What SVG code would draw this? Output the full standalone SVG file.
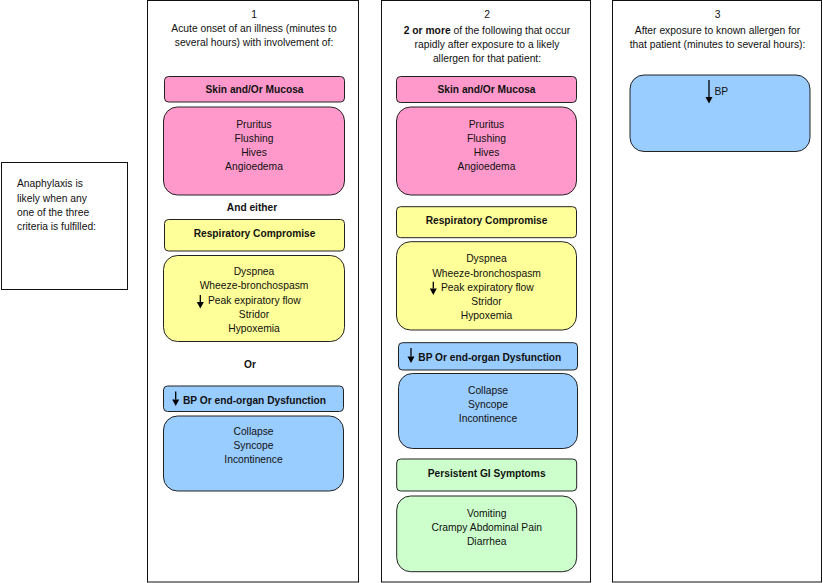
<svg xmlns="http://www.w3.org/2000/svg" width="823" height="583" viewBox="0 0 823 583">
<style>
text{font-family:"Liberation Sans",Arial,sans-serif;font-size:10.3px;fill:#111}
.c{text-anchor:middle}
.b{font-weight:bold;font-size:10.2px}
.col{fill:#fff;stroke:#111;stroke-width:1}
.hd,.bd{stroke:#222;stroke-width:1}
.pink{fill:#FF99CC}
.yel{fill:#FFFF99}
.blue{fill:#99CCFF}
.grn{fill:#CCFFCC}
.arr{stroke:#000;stroke-width:1.3;fill:none}
</style>
<defs>
<marker id="ah" markerUnits="userSpaceOnUse" markerWidth="8" markerHeight="8" refX="4" refY="7" orient="auto-start-reverse" viewBox="0 0 8 8">
<path d="M0,0 L8,0 L4,7 Z" transform="rotate(-90 4 4) translate(0 0)" fill="#000"/>
</marker>
<path id="tri" d="M-3.5,0 L3.5,0 L0,6.5 Z" fill="#000"/>
</defs>
<rect width="823" height="583" fill="#fff"/>

<g id="intro">
<rect class="col" x="1.5" y="162.5" width="126" height="127"/>
<text x="17" y="187">Anaphylaxis is</text>
<text x="17" y="201.5">likely when any</text>
<text x="17" y="216">one of the three</text>
<text x="17" y="230">criteria is fulfilled:</text>
</g>

<g id="criterion1">
<rect class="col" x="147.5" y="0.5" width="211" height="581.5"/>
<text class="c" x="254" y="18">1</text>
<text class="c" x="254" y="32">Acute onset of an illness (minutes to</text>
<text class="c" x="254" y="46">several hours) with involvement of:</text>
</g>

<g id="c1-skin">
<rect class="hd pink" x="164.5" y="76.5" width="180" height="25.5" rx="4"/>
<text class="c b" x="254.5" y="93">Skin and/Or Mucosa</text>
<rect class="bd pink" x="163.5" y="107" width="181" height="88" rx="14"/>
<text class="c" x="254" y="128">Pruritus</text>
<text class="c" x="254" y="142">Flushing</text>
<text class="c" x="254" y="156">Hives</text>
<text class="c" x="254" y="170">Angioedema</text>
</g>

<text class="c b" x="252" y="211">And either</text>

<g id="c1-resp">
<rect class="hd yel" x="164.5" y="219.5" width="180" height="31.5" rx="4"/>
<text class="c b" x="254.5" y="237">Respiratory Compromise</text>
<rect class="bd yel" x="163.5" y="255.5" width="181" height="86" rx="14"/>
<text class="c" x="254" y="275">Dyspnea</text>
<text class="c" x="254" y="289.3">Wheeze-bronchospasm</text>
<text x="208" y="303.5">Peak expiratory flow</text>
<path class="arr" d="M200.3,295 V302"/>
<use href="#tri" x="200.3" y="302"/>
<text class="c" x="254" y="317.7">Stridor</text>
<text class="c" x="254" y="331.7">Hypoxemia</text>
</g>

<text class="c b" x="250" y="368">Or</text>

<g id="c1-bp">
<rect class="hd blue" x="163.5" y="386" width="180" height="25.5" rx="4"/>
<path class="arr" d="M175.7,391.5 V399.5"/>
<use href="#tri" x="175.7" y="399.5"/>
<text class="b" x="183" y="404">BP Or end-organ Dysfunction</text>
<rect class="bd blue" x="163.5" y="416" width="180" height="75" rx="14"/>
<text class="c" x="253.5" y="435">Collapse</text>
<text class="c" x="253.5" y="449.3">Syncope</text>
<text class="c" x="253.5" y="463.3">Incontinence</text>
</g>

<g id="criterion2">
<rect class="col" x="381.5" y="0.5" width="209" height="581.5"/>
<text class="c" x="487" y="18">2</text>
<text class="c" x="487" y="34"><tspan font-weight="bold">2 or more</tspan> of the following that occur</text>
<text class="c" x="487" y="48">rapidly after exposure to a likely</text>
<text class="c" x="487" y="62">allergen for that patient:</text>
</g>

<g id="c2-skin">
<rect class="hd pink" x="396.5" y="76.5" width="180" height="26" rx="4"/>
<text class="c b" x="486.5" y="93">Skin and/Or Mucosa</text>
<rect class="bd pink" x="396.5" y="107" width="180" height="88" rx="14"/>
<text class="c" x="486.5" y="128">Pruritus</text>
<text class="c" x="486.5" y="142">Flushing</text>
<text class="c" x="486.5" y="156">Hives</text>
<text class="c" x="486.5" y="170">Angioedema</text>
</g>

<g id="c2-resp">
<rect class="hd yel" x="396.5" y="206.7" width="180" height="31" rx="4"/>
<text class="c b" x="486.5" y="224">Respiratory Compromise</text>
<rect class="bd yel" x="396.5" y="241.7" width="180" height="88.3" rx="14"/>
<text class="c" x="486.5" y="262.3">Dyspnea</text>
<text class="c" x="486.5" y="276.7">Wheeze-bronchospasm</text>
<path class="arr" d="M433.3,281.7 V288.5"/>
<use href="#tri" x="433.3" y="288.5"/>
<text x="441" y="291">Peak expiratory flow</text>
<text class="c" x="486.5" y="305">Stridor</text>
<text class="c" x="486.5" y="319.3">Hypoxemia</text>
</g>

<g id="c2-bp">
<rect class="hd blue" x="398.5" y="342.7" width="179" height="27.3" rx="4"/>
<path class="arr" d="M411,348 V356.5"/>
<use href="#tri" x="411" y="356.5"/>
<text class="b" x="418.3" y="360.5">BP Or end-organ Dysfunction</text>
<rect class="bd blue" x="398.5" y="373.5" width="179" height="75" rx="14"/>
<text class="c" x="488" y="394">Collapse</text>
<text class="c" x="488" y="408">Syncope</text>
<text class="c" x="488" y="422">Incontinence</text>
</g>

<g id="c2-gi">
<rect class="hd grn" x="396.7" y="459" width="180" height="32" rx="4"/>
<text class="c b" x="486.7" y="477">Persistent GI Symptoms</text>
<rect class="bd grn" x="396.7" y="496" width="180" height="75.7" rx="14"/>
<text class="c" x="486.7" y="516.7">Vomiting</text>
<text class="c" x="486.7" y="530.5">Crampy Abdominal Pain</text>
<text class="c" x="486.7" y="545">Diarrhea</text>
</g>

<g id="criterion3">
<rect class="col" x="612.5" y="0.5" width="209" height="581.5"/>
<text class="c" x="717.5" y="18">3</text>
<text class="c" x="717.5" y="34">After exposure to known allergen for</text>
<text class="c" x="717.5" y="48">that patient (minutes to several hours):</text>
</g>

<g id="c3-bp">
<rect class="bd blue" x="630" y="75" width="180" height="76.5" rx="14"/>
<path class="arr" d="M709,80 V97"/>
<use href="#tri" x="709" y="97"/>
<text x="714.5" y="95">BP</text>
</g>
</svg>
